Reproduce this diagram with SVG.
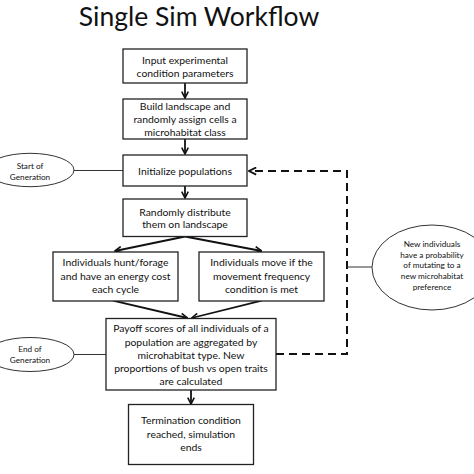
<svg xmlns="http://www.w3.org/2000/svg" width="474" height="474" viewBox="0 0 474 474">
<defs>
<style>
.box{fill:#fff;stroke:#222;stroke-width:1.3}
.ell{fill:#fff;stroke:#333;stroke-width:1}
.t{font-family:Lato,"Liberation Sans",sans-serif;font-size:10.4px;fill:#111;text-anchor:middle}
.s{font-family:Lato,"Liberation Sans",sans-serif;font-size:8.2px;fill:#111;text-anchor:middle}
.c{fill:none;stroke:#111;stroke-width:1.8}
.d{fill:none;stroke:#111;stroke-width:2;stroke-dasharray:8,5}
.l{fill:none;stroke:#333;stroke-width:1}
</style>
<marker id="ah" viewBox="0 0 10 10" refX="9" refY="5" markerWidth="4.5" markerHeight="4.5" orient="auto" markerUnits="strokeWidth">
<path d="M1,1 L9,5 L1,9" fill="none" stroke="#111" stroke-width="2"/>
</marker>
</defs>
<rect width="474" height="474" fill="#fff"/>
<text x="199" y="26" font-family="Lato,'Liberation Sans',sans-serif" font-size="26.5" text-anchor="middle" fill="#111">Single Sim Workflow</text>

<g id="connectors">
<line class="c" x1="185" y1="83" x2="185" y2="98" marker-end="url(#ah)"/>
<line class="c" x1="185" y1="139" x2="185" y2="154" marker-end="url(#ah)"/>
<line class="c" x1="185" y1="186" x2="185" y2="198" marker-end="url(#ah)"/>
<line class="c" x1="185" y1="236.5" x2="115" y2="251" marker-end="url(#ah)"/>
<line class="c" x1="185" y1="236.5" x2="261.5" y2="251" marker-end="url(#ah)"/>
<line class="c" x1="113" y1="300.7" x2="187.3" y2="318" marker-end="url(#ah)"/>
<line class="c" x1="261.7" y1="300.7" x2="191.7" y2="318" marker-end="url(#ah)"/>
<line class="c" x1="191" y1="390" x2="191" y2="404" marker-end="url(#ah)"/>
<path class="d" d="M276,354 H347 V171 H249" marker-end="url(#ah)"/>
<line class="l" x1="347" y1="267" x2="372" y2="267"/>
<line class="l" x1="74" y1="170.5" x2="123" y2="170.5"/>
<line class="l" x1="74" y1="354.5" x2="106" y2="354.5"/>
</g>

<g id="n1"><rect class="box" x="123" y="49" width="124" height="34"/>
<text class="t" x="185" y="64.2">Input experimental</text><text class="t" x="185" y="76.8">condition parameters</text></g>
<g id="n2"><rect class="box" x="123" y="99" width="124" height="40"/>
<text class="t" x="185" y="109.5">Build landscape and</text><text class="t" x="185" y="122.5">randomly assign cells a</text><text class="t" x="185" y="135.5">microhabitat class</text></g>
<g id="n3"><rect class="box" x="123" y="155" width="124" height="31"/>
<text class="t" x="185" y="175">Initialize populations</text></g>
<g id="n4"><rect class="box" x="123" y="199" width="124" height="37.5"/>
<text class="t" x="185" y="215.5">Randomly distribute</text><text class="t" x="185" y="227.5">them on landscape</text></g>
<g id="n5"><rect class="box" x="53" y="252" width="125" height="49"/>
<text class="t" x="115.5" y="266">Individuals hunt/forage</text><text class="t" x="115.5" y="279.5">and have an energy cost</text><text class="t" x="115.5" y="292.8">each cycle</text></g>
<g id="n6"><rect class="box" x="199" y="252" width="125" height="49"/>
<text class="t" x="261.5" y="266">Individuals move if the</text><text class="t" x="261.5" y="279.5">movement frequency</text><text class="t" x="261.5" y="292.8">condition is met</text></g>
<g id="n7"><rect class="box" x="106" y="318.5" width="170" height="71.5"/>
<text class="t" x="191" y="331.8">Payoff scores of all individuals of a</text><text class="t" x="191" y="346.2">population are aggregated by</text><text class="t" x="191" y="358.8">microhabitat type. New</text><text class="t" x="191" y="371.8">proportions of bush vs open traits</text><text class="t" x="191" y="384.8">are calculated</text></g>
<g id="n8"><rect class="box" x="128.5" y="404.5" width="125" height="60"/>
<text class="t" x="191" y="424.2">Termination condition</text><text class="t" x="191" y="437.8">reached, simulation</text><text class="t" x="191" y="450.8">ends</text></g>

<g id="start"><ellipse class="ell" cx="30" cy="170" rx="44" ry="16.7"/>
<text class="s" x="30" y="168.5">Start of</text><text class="s" x="30" y="179.5">Generation</text></g>
<g id="end"><ellipse class="ell" cx="30" cy="354.5" rx="44" ry="17"/>
<text class="s" x="30" y="352">End of</text><text class="s" x="30" y="362.5">Generation</text></g>
<g id="mut"><ellipse class="ell" cx="432" cy="267.5" rx="60" ry="42.5"/>
<text class="s" x="432" y="247">New individuals</text><text class="s" x="432" y="257.5">have a probability</text><text class="s" x="432" y="268">of mutating to a</text><text class="s" x="432" y="279">new microhabitat</text><text class="s" x="432" y="290">preference</text></g>
</svg>
